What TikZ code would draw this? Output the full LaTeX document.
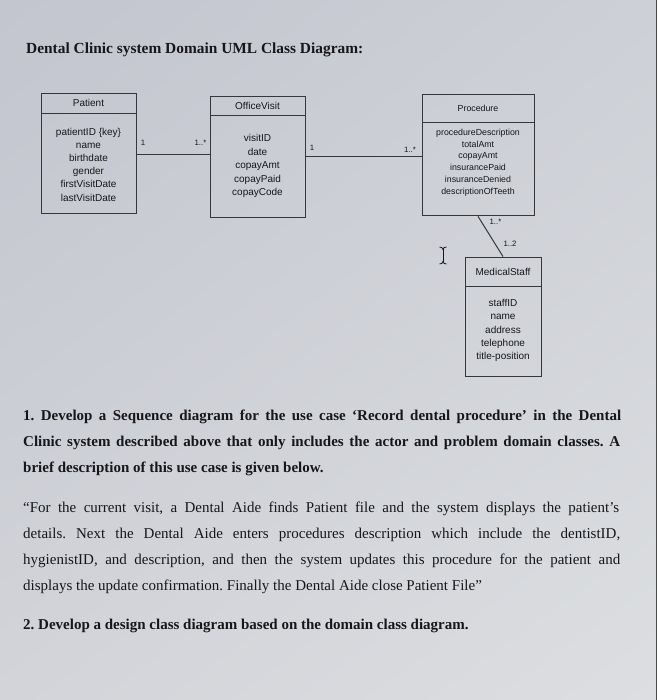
\documentclass[tikz,border=0pt]{standalone}
\usepackage{fontspec}
\setmainfont{Liberation Serif}
\newfontfamily\diagfont{Liberation Sans}
\usetikzlibrary{shadings}
\frenchspacing
\definecolor{ink}{HTML}{17171A}
\definecolor{boxline}{HTML}{36373C}
\definecolor{bgUL}{HTML}{C3C5CF}
\definecolor{bgUR}{HTML}{CDD0D6}
\definecolor{bgLL}{HTML}{D2D4D9}
\definecolor{bgLR}{HTML}{DCDEE1}
\tikzset{
  hdr/.style={draw=boxline, line width=0.9pt, inner sep=0pt, text=ink,
    font=\diagfont\fontsize{10}{12}\selectfont},
  bodybox/.style={draw=boxline, line width=0.9pt, inner sep=0pt},
  attr/.style={inner sep=0pt, align=center, text=ink,
    font=\diagfont\fontsize{10}{13.2}\selectfont},
  attrsmall/.style={inner sep=0pt, align=center, text=ink,
    font=\diagfont\fontsize{8.8}{11.8}\selectfont},
  mult/.style={inner sep=0pt, text=ink, font=\diagfont\fontsize{7.8}{9}\selectfont},
  assoc/.style={draw=boxline, line width=1pt},
  txt/.style={inner sep=0pt, anchor=base west, text=ink, font=\fontsize{15}{26}\selectfont},
  txtb/.style={txt, font=\fontsize{15}{26}\selectfont\bfseries},
}
\begin{document}
\begin{tikzpicture}[x=1pt, y=-1pt]
\shade[upper left=bgUL, upper right=bgUR, lower left=bgLL, lower right=bgLR] (0,0) rectangle (657,700);
\useasboundingbox (0,0) rectangle (657,700);
\fill[black!70] (655.6,0) rectangle (657,700);

% title
\node[txtb, font=\fontsize{15.4}{18}\selectfont\bfseries] (title) at (26,54) {Dental Clinic system Domain UML Class Diagram:};

% Patient
\node[hdr, minimum width=95pt, minimum height=20pt] (patH) at (88.5,103) {Patient};
\node[bodybox, minimum width=95pt, minimum height=100pt, anchor=north] (patB) at (patH.south) {};
\node[attr] (patT) at (88.5,164.5) {patientID \{key\}\\name\\birthdate\\gender\\firstVisitDate\\lastVisitDate};

% OfficeVisit
\node[hdr, minimum width=95pt, minimum height=19pt] (ovH) at (257.5,105.5) {OfficeVisit};
\node[bodybox, minimum width=95pt, minimum height=102pt, anchor=north] (ovB) at (ovH.south) {};
\node[attr, font=\diagfont\fontsize{10}{13.5}\selectfont] (ovT) at (257.5,166) {visitID\\date\\copayAmt\\copayPaid\\copayCode};

% Procedure
\node[hdr, font=\diagfont\fontsize{8.8}{11}\selectfont, minimum width=112pt, minimum height=28pt] (prH) at (478,108) {Procedure};
\node[bodybox, minimum width=112pt, minimum height=93pt, anchor=north] (prB) at (prH.south) {};
\node[attrsmall] (prT) at (478,162.5) {procedureDescription\\totalAmt\\copayAmt\\insurancePaid\\insuranceDenied\\descriptionOfTeeth};

% MedicalStaff
\node[hdr, minimum width=76pt, minimum height=29pt] (msH) at (503,271.5) {MedicalStaff};
\node[bodybox, minimum width=76pt, minimum height=90pt, anchor=north] (msB) at (msH.south) {};
\node[attr] (msT) at (503,330.5) {staffID\\name\\address\\telephone\\title-position};

% associations
\coordinate (l1) at (0,155);
\coordinate (l2) at (0,157);
\draw[assoc] (patB.east |- l1) -- (ovB.west |- l1);
\draw[assoc] (ovB.east |- l2) -- (prB.west |- l2);
\draw[assoc] (prB.south) -- (msH.north);

% multiplicities
\node[mult] (m1) at (143,142.5) {1};
\node[mult] (m2) at (200.5,143) {1..*};
\node[mult] (m3) at (312,148) {1};
\node[mult] (m4) at (410,150) {1..*};
\node[mult] (m5) at (495.5,222) {1..*};
\node[mult] (m6) at (510,244) {1..2};

% text cursor (I-beam)
\draw[ink, line width=0.9pt] (443,249.5) -- (443,261.5);
\draw[ink, line width=0.8pt] (439.5,247) to[out=0, in=90] (443,249.5) to[out=90, in=180] (446.5,247);
\draw[ink, line width=0.8pt] (439.5,264) to[out=0, in=-90] (443,261.5) to[out=-90, in=180] (446.5,264);

% questions
\node[txtb] (q1a) at (23,420) {\makebox[598pt][s]{1. Develop a Sequence diagram for the use case ‘Record dental procedure’ in the Dental}};
\node[txtb] (q1b) at (23,446) {\makebox[597pt][s]{Clinic system described above that only includes the actor and problem domain classes. A}};
\node[txtb] (q1c) at (23,472) {brief description of this use case is given below.};

\node[txt] (d1) at (23,512) {\makebox[596pt][s]{“For the current visit, a Dental Aide finds Patient file and the system displays the patient’s}};
\node[txt] (d2) at (23,538) {\makebox[597pt][s]{details. Next the Dental Aide enters procedures description which include the dentistID,}};
\node[txt] (d3) at (23,564) {\makebox[597pt][s]{hygienistID, and description, and then the system updates this procedure for the patient and}};
\node[txt] (d4) at (23,590) {displays the update confirmation. Finally the Dental Aide close Patient File”};

\node[txtb] (q2) at (23,629) {2. Develop a design class diagram based on the domain class diagram.};
\end{tikzpicture}
\end{document}
